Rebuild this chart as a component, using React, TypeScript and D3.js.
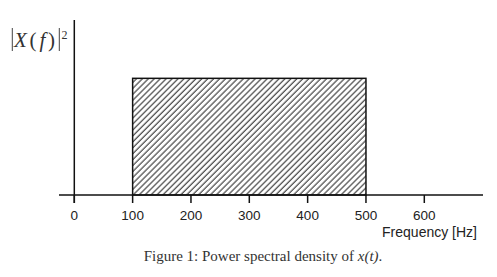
import React from "react";
import * as d3 from "d3";

const xTicks = [0, 100, 200, 300, 400, 500, 600];
const bandStart = [100];
const bandEnd = [500];
const bandLevel = [1];
const xLabel = "Frequency [Hz]";
const caption = "Figure 1: Power spectral density of ";

export default function App() {
  const W = 497, H = 277;
  const x = d3.scaleLinear().domain([0, 600]).range([74.3, 424.3]);
  const y = d3.scaleLinear().domain([0, 1.5]).range([195, 20]);
  const axisY = y(0);
  const sans = "'Liberation Sans', Arial, sans-serif";
  const serif = "'Liberation Serif', 'Times New Roman', serif";
  return (
    <svg width={W} height={H} style={{ position: "absolute", left: 0, top: 0, background: "#fff" }}>
      <defs>
        <pattern id="hatch" patternUnits="userSpaceOnUse" width={4.2} height={10} patternTransform="rotate(45)">
          <line x1={1} y1={0} x2={1} y2={10} stroke="#444" strokeWidth={1.2} />
        </pattern>
      </defs>
      {bandStart.map((s, i) => (
        <rect key={i} x={x(s)} y={y(bandLevel[i])} width={x(bandEnd[i]) - x(s)} height={axisY - y(bandLevel[i])}
          fill="url(#hatch)" stroke="#111" strokeWidth={1.5} />
      ))}
      <line x1={59} x2={483} y1={axisY} y2={axisY} stroke="#111" strokeWidth={1.5} />
      <line x1={x(0)} x2={x(0)} y1={y(1.5)} y2={axisY + 8} stroke="#111" strokeWidth={1.5} />
      {xTicks.map((t) => (
        <g key={t}>
          <line x1={x(t)} x2={x(t)} y1={axisY} y2={axisY + 8} stroke="#111" strokeWidth={1.5} />
          <text x={x(t)} y={219.5} textAnchor="middle" fontFamily={sans} fontSize={13.5} fill="#222">{t}</text>
        </g>
      ))}
      <text x={477} y={237} textAnchor="end" fontFamily={sans} fontSize={14} fill="#222">{xLabel}</text>
      <line x1={12.3} x2={12.3} y1={28} y2={51} stroke="#444" strokeWidth={1} />
      <line x1={59.3} x2={59.3} y1={28} y2={51} stroke="#444" strokeWidth={1} />
      <text x={14} y={47} fontFamily={serif} fontSize={21} fill="#333" textLength={41} lengthAdjust="spacing">
        <tspan fontStyle="italic">X</tspan>(<tspan fontStyle="italic">f</tspan>)
      </text>
      <text x={61.5} y={38.5} fontFamily={serif} fontSize={12} fill="#333">2</text>
      <text x={263} y={260.5} textAnchor="middle" fontFamily={serif} fontSize={15} fill="#333">
        {caption}<tspan fontStyle="italic">x(t)</tspan>.
      </text>
    </svg>
  );
}
